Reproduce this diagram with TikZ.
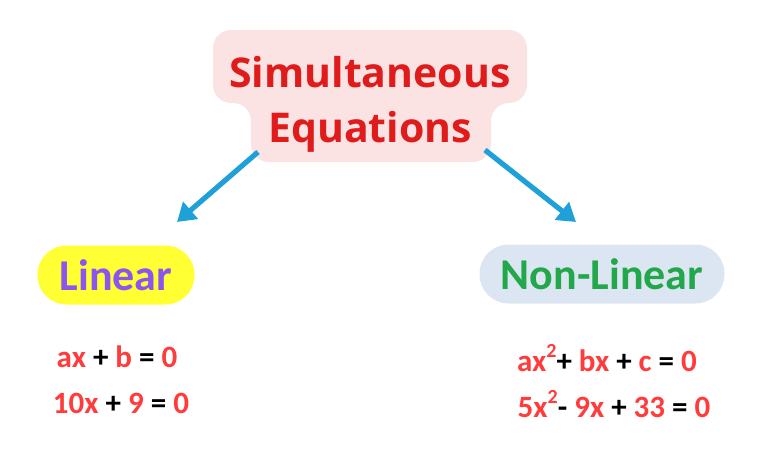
\documentclass[tikz,border=0pt]{standalone}
\usepackage{fontspec}
\setmainfont{Carlito}
\newfontfamily\titlefont{Open Sans}
\usepackage{xcolor}
\usetikzlibrary{arrows.meta, positioning}
\definecolor{titlered}{HTML}{E01B1B}
\definecolor{titlefill}{HTML}{FBE3E3}
\definecolor{eqred}{HTML}{FF3B3B}
\definecolor{arrowblue}{HTML}{1FA0D8}
\definecolor{linfill}{HTML}{FFFF33}
\definecolor{linpurple}{HTML}{8B55F2}
\definecolor{nlfill}{HTML}{DCE6F2}
\definecolor{nlgreen}{HTML}{22A84A}
\newcommand{\sqtwo}{\raisebox{0.45em}{\fontsize{10}{10}\selectfont 2}}

\begin{document}
\begin{tikzpicture}[
  x=0.5pt, y=-0.5pt,
  pill/.style={rectangle, rounded corners=14.5pt, minimum height=29.5pt,
               font=\bfseries\fontsize{22}{24}\selectfont, inner sep=0pt},
  eq/.style={font=\bfseries\fontsize{15.5}{17}\selectfont, text=black, inner sep=0pt},
  arr/.style={-{Triangle[length=9pt, width=11pt]}, line width=2.6pt, draw=arrowblue}
]
\useasboundingbox (0,0) rectangle (768,451);

% Title background
\fill[titlefill, rounded corners=9pt]
  (213,30) -- (527,30) -- (527,103) -- (491,103) -- (491,162)
  -- (251,162) -- (251,103) -- (213,103) -- cycle;

% Arrows
\coordinate (l1) at (258,152);
\coordinate (l2) at (177,222);
\coordinate (r1) at (485,150);
\coordinate (r2) at (576,222);

% Title
\node[font=\titlefont\bfseries\fontsize{20.5}{27.5}\selectfont, text=titlered,
      align=center, inner sep=0pt] (title) at (370,104)
      {Simultaneous\\Equations};

% Two kinds
\node[pill, fill=linfill, text=linpurple, minimum width=78.5pt] (lin) at (116,275) {Linear\hspace{4pt}};
\node[pill, fill=nlfill, text=nlgreen, minimum width=122.5pt] (nonlin) at (602,274) {Non-Linear\hspace{5pt}};

% Examples
\node[eq] (lin1) at (117,357) {\textcolor{eqred}{ax} + \textcolor{eqred}{b} = \textcolor{eqred}{0}};
\node[eq] (lin2) at (121,403) {\textcolor{eqred}{10x} + \textcolor{eqred}{9} = \textcolor{eqred}{0}};
\node[eq] (nl1) at (607,358) {\textcolor{eqred}{ax\sqtwo}+ \textcolor{eqred}{bx} + \textcolor{eqred}{c} = \textcolor{eqred}{0}};
\node[eq] (nl2) at (614,404) {\textcolor{eqred}{5x\sqtwo}- \textcolor{eqred}{9x} + \textcolor{eqred}{33} = \textcolor{eqred}{0}};

\draw[arr] (l1) -- (l2);
\draw[arr] (r1) -- (r2);

\end{tikzpicture}
\end{document}
